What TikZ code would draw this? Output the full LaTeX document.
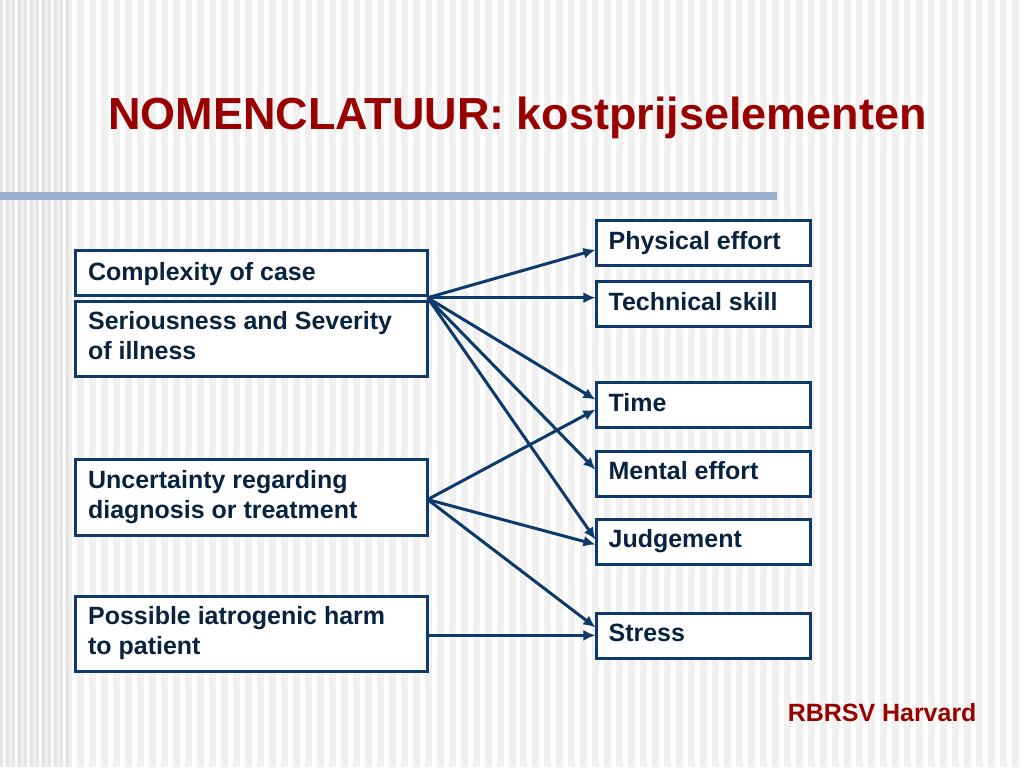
\documentclass[tikz,border=0pt]{standalone}
\usepackage{fontspec}
\setmainfont{Liberation Sans}
\usetikzlibrary{arrows.meta}
\definecolor{navy}{HTML}{0E3A6B}
\definecolor{dred}{HTML}{990000}
\definecolor{barc}{HTML}{9AB2CC}
\begin{document}
\begin{tikzpicture}[x=1pt,y=-1pt,
  box/.style={draw=navy,line width=3pt,fill=white,inner sep=0pt},
  lbl/.style={anchor=north west,font=\bfseries\fontsize{25}{30}\selectfont,text=navy!60!black,align=left,inner sep=0pt},
  arr/.style={draw=navy,line width=3pt,-{Latex[length=12pt,width=11pt]}}]
\fill[white!94!black] (0,0) rectangle (1024,768);
\foreach \i in {0,...,85} {\fill[white] (\i*12,0) rectangle (\i*12+5,768);}
\useasboundingbox (0,0) rectangle (1024,768);
\foreach \i in {0,...,11} {\fill[white!90!black] (\i*6,0) rectangle (\i*6+3,768);}
\fill[barc] (0,192) rectangle (778,200);
\node[font=\bfseries\fontsize{45}{52}\selectfont,text=dred] (title) at (518,118) {NOMENCLATUUR: kostprijselementen};
\node[font=\bfseries\fontsize{25}{30}\selectfont,text=dred] (sig) at (883,713) {RBRSV Harvard};
% left boxes
\draw[box] (76,251) rectangle (428,296); \node[lbl] (c) at (88,262) {Complexity of case};
\draw[box] (76,302) rectangle (428,377); \node[lbl] (s) at (88,312) {Seriousness and Severity\\of illness};
\draw[box] (76,460) rectangle (428,536); \node[lbl] (u) at (88,471) {Uncertainty regarding\\diagnosis or treatment};
\draw[box] (76,597) rectangle (428,672); \node[lbl] (p) at (88,607) {Possible iatrogenic harm\\to patient};
% right boxes
\draw[box] (597,221) rectangle (811,266); \node[lbl] (ph) at (609,231) {Physical effort};
\draw[box] (597,282) rectangle (811,327); \node[lbl] (te) at (609,292) {Technical skill};
\draw[box] (597,383) rectangle (811,428); \node[lbl] (ti) at (609,394) {Time};
\draw[box] (597,452) rectangle (811,497); \node[lbl] (me) at (609,462) {Mental effort};
\draw[box] (597,520) rectangle (811,565); \node[lbl] (ju) at (609,530) {Judgement};
\draw[box] (597,614) rectangle (811,659); \node[lbl] (st) at (609,624) {Stress};
\coordinate (o1) at (428,298);
\coordinate (o2) at (428,500);
\coordinate (o3) at (428,636);
\draw[arr] (o1) -- (596,250);
\draw[arr] (o1) -- (596,298);
\draw[arr] (o1) -- (596,400);
\draw[arr] (o1) -- (596,470);
\draw[arr] (o1) -- (596,540);
\draw[arr] (o2) -- (596,410);
\draw[arr] (o2) -- (596,545);
\draw[arr] (o2) -- (596,628);
\draw[arr] (o3) -- (596,636);
\end{tikzpicture}
\end{document}
